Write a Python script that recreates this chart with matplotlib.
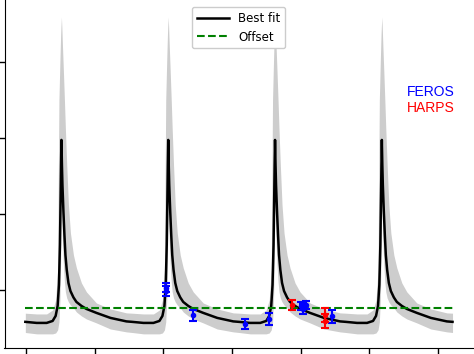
import numpy as np
import matplotlib
matplotlib.use("Agg")
import matplotlib.pyplot as plt

# ---- fitted model, read over one orbit (days after each periastron peak) ----
orbit_dt = [0, 3.6, 7.3, 14.6, 21.8, 29.1, 38.6, 51.0, 65.5, 87.4, 109.2, 145.6,
            182.0, 254.8, 356.7, 473.2, 514.7, 597.0, 669.8, 713.4, 735.3, 749.8,
            759.3, 766.6, 771.7, 774.6]
best_orbit = [98.7, 82.2, 69.1, 51.3, 36.2, 23.0, 13.2, 4.6, -0.7, -4.9, -7.9, -10.5,
              -12.5, -15.1, -18.4, -20.7, -21.0, -21.7, -21.7, -20.4, -17.1, -10.5,
              3.3, 29.6, 62.5, 82.2]
upper_orbit = [179.6, 171.1, 161.2, 143.4, 125.0, 105.3, 82.2, 55.9, 37.5, 23.0, 14.5, 4.6,
               -1.3, -8.6, -12.5, -15.1, -15.3, -15.8, -15.8, -13.2, -6.6, 13.2,
               125.0, 151.3, 167.8, 174.3]
lower_orbit = [65.8, 49.3, 32.9, 16.4, 5.3, -1.3, -5.3, -7.9, -9.9, -11.8, -14.5, -17.1,
               -19.1, -21.7, -25.7, -27.6, -28.0, -28.9, -28.9, -28.9, -28.3, -26.3,
               -21.1, -6.6, 19.7, 42.8]
peak_times = [6480.5, 7258.0, 8035.5, 8813.0, 9590.5]
model_start = 6995.2
model_end = 10105.2
offset_rv = -11.8

# ---- RV data ----
feros_t = [8015.6, 8017.8, 8218.0, 8594.0, 8769.0, 9005.6, 9020.0, 9035.0, 9225.5]
feros_rv = [1.6, -0.7, -16.8, -22.4, -19.1, -10.5, -12.5, -9.9, -17.4]
feros_err = [3.0, 3.0, 3.6, 3.6, 3.9, 2.6, 3.3, 2.6, 4.3]
harps_t = [8936.5, 9176.7, 9180.0]
harps_rv = [-10.2, -16.4, -20.4]
harps_err = [3.3, 4.6, 4.6]

xticks = [7000, 7500, 8000, 8500, 9000, 9500, 10000]
yticks = [0, 50, 100, 150, 200]

# build model curve from the per-orbit readings
t_model = np.concatenate([np.asarray(orbit_dt) + tp for tp in peak_times])
b_model = np.tile(best_orbit, len(peak_times))
u_model = np.tile(upper_orbit, len(peak_times))
l_model = np.tile(lower_orbit, len(peak_times))
keep = (t_model >= model_start - 0.01) & (t_model <= model_end + 0.01)
t_model, b_model, u_model, l_model = t_model[keep], b_model[keep], u_model[keep], l_model[keep]

fig = plt.figure(figsize=(4.74, 3.54), dpi=100)
W, H = 474.0, 354.0
ax = fig.add_axes([4.5 / W, 5.7 / H, 495.5 / W, 378.3 / H])

ax.fill_between(t_model, l_model, u_model, color="#cdcdcd", lw=0, zorder=1)
ax.plot(t_model, b_model, color="black", lw=1.8, zorder=2, label="Best fit")
ax.plot([t_model[0], t_model[-1]], [offset_rv, offset_rv], color="green", ls="--",
        lw=1.5, zorder=3, label="Offset")

ekw = dict(fmt="o", ms=3, capsize=3, elinewidth=1.5, capthick=1.5, zorder=4)
ax.errorbar(feros_t, feros_rv, yerr=feros_err, color="blue", ecolor="blue", **ekw)
ax.errorbar(harps_t, harps_rv, yerr=harps_err, color="red", ecolor="red", **ekw)

ax.text(9774, 130.3, "FEROS", color="blue", fontsize=10, family="Liberation Sans",
        va="center", ha="left")
ax.text(9774, 119.7, "HARPS", color="red", fontsize=10, family="Liberation Sans",
        va="center", ha="left")

ax.set_xlim(6843.5, 10450.7)
ax.set_ylim(-38.4, 210.5)
ax.set_xticks(xticks)
ax.set_yticks(yticks)
ax.tick_params(labelbottom=False, labelleft=False, direction="out", length=5, width=1)
ax.spines["top"].set_visible(False)
ax.spines["right"].set_visible(False)

leg = ax.legend(loc="upper left", bbox_to_anchor=(192 / W, 1 - 7 / H),
                bbox_transform=fig.transFigure, borderaxespad=0, fontsize=8.5,
                handlelength=2.7, framealpha=1.0, edgecolor="#cccccc")

fig.savefig("out.png", dpi=100)
